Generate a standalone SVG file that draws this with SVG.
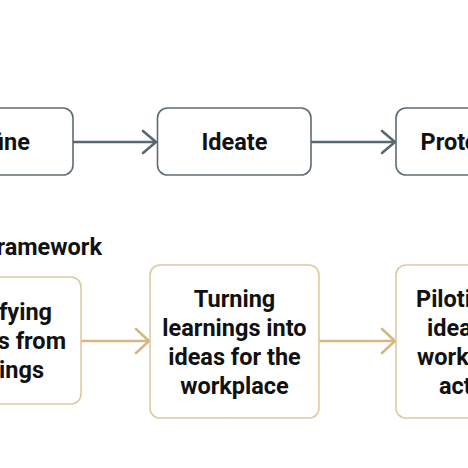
<svg xmlns="http://www.w3.org/2000/svg" width="468" height="468" viewBox="0 0 468 468">
  <style>
    .bg { fill: #ffffff; }
    .boxTop { fill: #ffffff; stroke: #5f6c74; stroke-width: 1.6; }
    .boxBot { fill: #ffffff; stroke: #dccaa2; stroke-width: 1.6; }
    .lbl { font-family: Roboto, "Liberation Sans", sans-serif; font-weight: bold; font-size: 23.5px; fill: #111111; text-anchor: middle; }
    .lblS { font-family: Roboto, "Liberation Sans", sans-serif; font-weight: bold; font-size: 23.5px; fill: #111111; text-anchor: start; }
    .lblE { font-family: Roboto, "Liberation Sans", sans-serif; font-weight: bold; font-size: 23.5px; fill: #111111; text-anchor: end; }
    .conTop { stroke: #5a6870; stroke-width: 2.6; fill: none; }
    .conBot { stroke: #d7b681; stroke-width: 2.6; fill: none; }
  </style>
  <defs>
    <marker id="headTop" markerUnits="userSpaceOnUse" markerWidth="20" markerHeight="30" viewBox="-16 -15 20 30" refX="0" refY="0" orient="auto">
      <path d="M-13,-11 L0,0 L-13,11" fill="none" stroke="#5a6870" stroke-width="2.6" stroke-linecap="round" stroke-linejoin="miter"/>
    </marker>
    <marker id="headBot" markerUnits="userSpaceOnUse" markerWidth="20" markerHeight="30" viewBox="-16 -15 20 30" refX="0" refY="0" orient="auto">
      <path d="M-13,-12 L0,0 L-13,12" fill="none" stroke="#d7b681" stroke-width="2.6" stroke-linecap="round" stroke-linejoin="miter"/>
    </marker>
  </defs>
  <rect class="bg" x="0" y="0" width="468" height="468"/>

  <g id="connectors">
    <line class="conTop" x1="73" y1="142" x2="156" y2="142" marker-end="url(#headTop)"/>
    <line class="conTop" x1="311" y1="142" x2="395" y2="142" marker-end="url(#headTop)"/>
    <line class="conBot" x1="81" y1="341" x2="149" y2="341" marker-end="url(#headBot)"/>
    <line class="conBot" x1="319" y1="341" x2="395" y2="341" marker-end="url(#headBot)"/>
  </g>

  <g id="define">
    <rect class="boxTop" x="-81" y="108" width="154" height="67" rx="10"/>
    <text class="lblE" x="30" y="150">Define</text>
  </g>
  <g id="ideate">
    <rect class="boxTop" x="157.5" y="108" width="153.5" height="67" rx="10"/>
    <text class="lbl" x="234.5" y="150">Ideate</text>
  </g>
  <g id="prototype">
    <rect class="boxTop" x="396" y="108" width="154" height="67" rx="10"/>
    <text class="lblS" x="420.5" y="150">Prototype</text>
  </g>

  <g id="framework-title">
    <text class="lblE" x="102" y="255">Framework</text>
  </g>

  <g id="identifying">
    <rect class="boxBot" x="-88" y="277" width="169" height="127" rx="10"/>
    <text class="lblE" x="52" y="320">Identifying</text>
    <text class="lblE" x="66" y="349">insights from</text>
    <text class="lblE" x="44" y="378">readings</text>
  </g>
  <g id="turning">
    <rect class="boxBot" x="150" y="265" width="169" height="153" rx="10"/>
    <text class="lbl" x="234.5" y="307">Turning</text>
    <text class="lbl" x="234.5" y="336">learnings into</text>
    <text class="lbl" x="234.5" y="365">ideas for the</text>
    <text class="lbl" x="234.5" y="394">workplace</text>
  </g>
  <g id="piloting">
    <rect class="boxBot" x="396" y="265" width="169" height="153" rx="10"/>
    <text class="lblS" x="416" y="307">Piloting</text>
    <text class="lblS" x="427" y="336">ideas in the</text>
    <text class="lblS" x="417" y="365">workplace</text>
    <text class="lblS" x="439" y="394">actively</text>
  </g>
</svg>
